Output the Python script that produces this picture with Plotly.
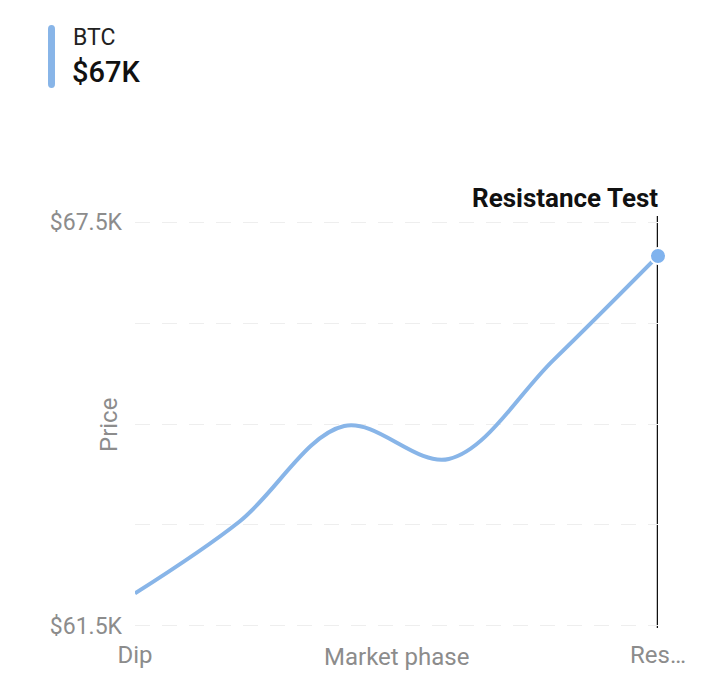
import plotly.graph_objects as go

# market phases (only first and last are labelled on the axis)
phases = ["Dip", "Recovery", "Rally", "Pullback", "Breakout", "Resistance Test"]
prices = [61980, 63050, 64470, 63980, 65450, 67000]

y_ticks = [61500, 63000, 64500, 66000, 67500]
y_ticktext = ["$61.5K", "", "", "", "$67.5K"]
x_ticktext = ["Dip", "Res\u2026"]

# page has an 8px body margin, so the figure is a bit smaller than the window
OFF = 8
W, H = 720 - OFF, 697 - OFF
L, R, T, B = 135 - OFF, 62, 220 - OFF, 69
PW, PH = W - L - R, H - T - B


def px_x(p):
    return (p - OFF - L) / PW


def px_y(p):
    return (H - B - (p - OFF)) / PH


BLUE = "#88b5e8"
GRAY = "#8c8c8c"
FONT = "Roboto"

fig = go.Figure()

fig.add_trace(go.Scatter(
    x=phases,
    y=prices,
    mode="lines",
    line=dict(color=BLUE, width=4, shape="spline", smoothing=1),
    hoverinfo="skip",
    showlegend=False,
))

# highlighted last point
fig.add_trace(go.Scatter(
    x=[phases[-1]],
    y=[prices[-1]],
    mode="markers",
    marker=dict(color="#80b3ee", size=16, line=dict(color="white", width=2)),
    cliponaxis=False,
    hoverinfo="skip",
    showlegend=False,
))

# vertical marker line at the last phase
fig.add_shape(
    type="line", xref="x", yref="paper",
    x0=phases[-1], x1=phases[-1], y0=0, y1=1.01,
    line=dict(color="#111111", width=2.5),
    layer="below",
)

# rounded legend bar top-left
x0, x1, ya, yb = px_x(48), px_x(55), px_y(25), px_y(88)
xm = (x0 + x1) / 2
r = (px_y(25) - px_y(29))
fig.add_shape(
    type="path", xref="paper", yref="paper",
    path=(f"M {x0} {ya - r} Q {x0} {ya} {xm} {ya} Q {x1} {ya} {x1} {ya - r} "
          f"L {x1} {yb + r} Q {x1} {yb} {xm} {yb} Q {x0} {yb} {x0} {yb + r} Z"),
    fillcolor=BLUE, line=dict(width=0),
)

fig.add_annotation(
    text="BTC", xref="paper", yref="paper", x=px_x(71), y=px_y(37),
    xanchor="left", yanchor="middle", showarrow=False,
    font=dict(family=FONT, size=23, color="#222222"),
)
fig.add_annotation(
    text="$67K", xref="paper", yref="paper", x=px_x(70), y=px_y(72),
    xanchor="left", yanchor="middle", showarrow=False,
    font=dict(family=FONT, size=29, color="#111111", weight=500),
)
fig.add_annotation(
    text="<b>Resistance Test</b>", xref="paper", yref="paper", x=px_x(660), y=px_y(198),
    xanchor="right", yanchor="middle", showarrow=False,
    font=dict(family=FONT, size=26, color="#111111"),
)

# axis titles placed as annotations
fig.add_annotation(
    text="Market phase", xref="paper", yref="paper", x=0.5, y=px_y(657),
    xanchor="center", yanchor="middle", showarrow=False,
    font=dict(family=FONT, size=24, color=GRAY),
)
fig.add_annotation(
    text="Price", xref="paper", yref="paper", x=px_x(109), y=px_y(425),
    xanchor="center", yanchor="middle", showarrow=False, textangle=-90,
    font=dict(family=FONT, size=24, color=GRAY),
)

fig.update_layout(
    width=W,
    height=H,
    margin=dict(l=L, r=R, t=T, b=B, pad=0),
    paper_bgcolor="white",
    plot_bgcolor="white",
    font=dict(family=FONT),
    xaxis=dict(
        type="category",
        categoryorder="array",
        categoryarray=phases,
        range=[0, len(phases) - 1],
        tickvals=[phases[0], phases[-1]],
        ticktext=x_ticktext,
        tickfont=dict(family=FONT, size=24, color=GRAY),
        showgrid=False,
        zeroline=False,
        showline=False,
        ticks="",
        ticklabelstandoff=10,
    ),
    yaxis=dict(
        range=[y_ticks[0] - 35, y_ticks[-1] + 35],
        tickvals=y_ticks,
        ticktext=y_ticktext,
        tickfont=dict(family=FONT, size=23, color=GRAY),
        showgrid=True,
        gridcolor="#eeeeee",
        gridwidth=1.2,
        griddash="15px,12px",
        zeroline=False,
        showline=False,
        ticks="",
        ticklabelstandoff=12,
    ),
)

fig.write_html("out.html")
